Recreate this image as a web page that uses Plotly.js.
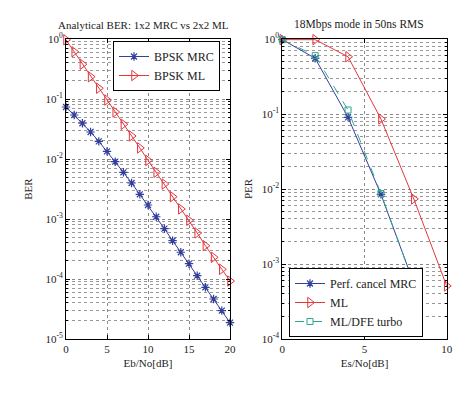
<!DOCTYPE html>
<html><head><meta charset="utf-8">
<script src="https://cdn.plot.ly/plotly-3.0.1.min.js"></script>
<style>html,body{margin:0;padding:0;background:#fff;}#chart{width:474px;height:397px;}</style>
</head><body><div id="chart"></div>
<script>
// Left panel: analytical BER
const ebno = [0,1,2,3,4,5,6,7,8,9,10,11,12,13,14,15,16,17,18,19,20];
const berMRC = [0.0736,0.0541,0.0394,0.0282,0.0197,0.0134,0.00902,0.0060,0.00398,0.00258,0.00171,0.00109,6.9e-4,4.35e-4,2.79e-4,1.80e-4,1.135e-4,7.27e-5,4.64e-5,2.97e-5,1.87e-5];
const berML = [0.97,0.614,0.379,0.235,0.151,0.0962,0.0607,0.0379,0.0242,0.0153,0.0095,0.0060,0.00383,0.00235,0.00147,9.5e-4,5.85e-4,3.59e-4,2.30e-4,1.45e-4,9.26e-5];
// Right panel: PER
const esno = [0,2,4,6,8,10];
const perMRC = [0.98,0.553,0.0903,0.0085,5.5e-4];
const perML = [0.98,0.98,0.58,0.0858,0.00736,5.1e-4];
const perTurbo = [0.98,0.60,0.113,0.0087,5.5e-4];
const leftXTicks = [0,5,10,15,20];
const rightXTicks = [0,5,10];
const leftYTickVals = [1,0.1,0.01,0.001,1e-4,1e-5];
const leftYTickText = ['10<sup>0</sup>','10<sup>-1</sup>','10<sup>-2</sup>','10<sup>-3</sup>','10<sup>-4</sup>','10<sup>-5</sup>'];
const rightYTickVals = [1,0.1,0.01,0.001,1e-4];
const rightYTickText = ['10<sup>0</sup>','10<sup>-1</sup>','10<sup>-2</sup>','10<sup>-3</sup>','10<sup>-4</sup>'];

const BLUE = '#333f9c', RED = '#e4373c', GREEN = '#2ea88c';
const FONT = 'Liberation Serif, Times New Roman, serif';

function minorVals(majors) {
  const out = [];
  majors.forEach(function (v) { for (let m = 2; m <= 9; m++) { if (v * m <= 1.0001) out.push(v * m); } });
  return out;
}

const traces = [
  {x: ebno, y: berMRC, name: 'BPSK MRC', mode: 'lines+markers', xaxis: 'x', yaxis: 'y', legend: 'legend', cliponaxis: false,
   line: {color: BLUE, width: 1}, marker: {symbol: 'asterisk-open', size: 7, color: BLUE, line: {color: BLUE, width: 1.2}}},
  {x: ebno, y: berML, name: 'BPSK ML', mode: 'lines+markers', xaxis: 'x', yaxis: 'y', legend: 'legend', cliponaxis: false,
   line: {color: RED, width: 1}, marker: {symbol: 'triangle-right-open', size: 9, color: RED, line: {color: RED, width: 1}}},
  {x: esno.slice(0, perMRC.length), y: perMRC, name: 'Perf. cancel MRC', mode: 'lines+markers', xaxis: 'x2', yaxis: 'y2', legend: 'legend2', cliponaxis: false,
   line: {color: BLUE, width: 1}, marker: {symbol: 'asterisk-open', size: 7, color: BLUE, line: {color: BLUE, width: 1.2}}},
  {x: esno, y: perML, name: 'ML', mode: 'lines+markers', xaxis: 'x2', yaxis: 'y2', legend: 'legend2', cliponaxis: false,
   line: {color: RED, width: 1}, marker: {symbol: 'triangle-right-open', size: 9, color: RED, line: {color: RED, width: 1}}},
  {x: esno.slice(0, perTurbo.length), y: perTurbo, name: 'ML/DFE turbo', mode: 'lines+markers', xaxis: 'x2', yaxis: 'y2', legend: 'legend2', cliponaxis: false,
   line: {color: GREEN, width: 1, dash: 'dash'}, marker: {symbol: 'square-open', size: 6, color: GREEN, line: {color: GREEN, width: 1}}}
];

function xax(domain, range, ticks, title, anchor) {
  return {domain: domain, range: range, tickmode: 'array', tickvals: ticks, ticktext: ticks.map(String), anchor: anchor,
    showline: true, mirror: 'ticks', linecolor: '#000', linewidth: 1, ticks: 'inside', ticklen: 4, tickcolor: '#000',
    showgrid: true, gridcolor: '#888', griddash: 'dot', gridwidth: 1, zeroline: false,
    tickfont: {family: FONT, size: 11, color: '#222'},
    title: {text: title, font: {family: FONT, size: 11, color: '#222'}, standoff: 5}};
}
function yax(domain, range, vals, text, title, anchor, standoff) {
  return {domain: domain, type: 'log', range: range, tickmode: 'array', tickvals: vals, ticktext: text, anchor: anchor,
    showline: true, mirror: 'ticks', linecolor: '#000', linewidth: 1, ticks: 'inside', ticklen: 4, tickcolor: '#000',
    showgrid: true, gridcolor: '#888', griddash: 'dot', gridwidth: 1, zeroline: false,
    minor: {tickmode: 'array', tickvals: minorVals(vals), showgrid: true, gridcolor: '#999', griddash: 'dot', gridwidth: 1,
            ticks: 'inside', ticklen: 2, tickcolor: '#000'},
    tickfont: {family: FONT, size: 11, color: '#222'},
    title: {text: title, font: {family: FONT, size: 11, color: '#222'}, standoff: standoff}};
}

const yDom = [1 - 339/397, 1 - 39/397];
const layout = {
  width: 474, height: 397,
  margin: {l: 0, r: 0, t: 0, b: 0},
  paper_bgcolor: '#fff', plot_bgcolor: '#fff',
  showlegend: true,
  xaxis: xax([66/474, 230/474], [0, 20], leftXTicks, 'Eb/No[dB]', 'y'),
  yaxis: yax(yDom, [-5, 0], leftYTickVals, leftYTickText, 'BER', 'x', 10),
  xaxis2: xax([282.3/474, 446.7/474], [0, 10], rightXTicks, 'Es/No[dB]', 'y2'),
  yaxis2: yax(yDom, [-4, 0], rightYTickVals, rightYTickText, 'PER', 'x2', 6),
  legend: {x: 113/474, y: 1 - 41/397, xanchor: 'left', yanchor: 'top', bgcolor: '#fff', bordercolor: '#000', borderwidth: 1,
    font: {family: FONT, size: 12, color: '#222'}, tracegroupgap: 0, itemwidth: 30},
  legend2: {x: 289/474, y: 1 - 268/397, xanchor: 'left', yanchor: 'top', bgcolor: '#fff', bordercolor: '#000', borderwidth: 1,
    font: {family: FONT, size: 12, color: '#222'}, tracegroupgap: 0, itemwidth: 30},
  annotations: [
    {text: 'Analytical BER: 1x2 MRC vs 2x2 ML', xref: 'paper', yref: 'paper', x: 143/474, y: 1 - 25/397, xanchor: 'center', yanchor: 'middle',
     showarrow: false, font: {family: FONT, size: 11, color: '#222'}},
    {text: '18Mbps mode in 50ns RMS', xref: 'paper', yref: 'paper', x: 358.5/474, y: 1 - 25/397, xanchor: 'center', yanchor: 'middle',
     showarrow: false, font: {family: FONT, size: 11.5, color: '#222'}}
  ]
};
Plotly.newPlot('chart', traces, layout, {displayModeBar: false, staticPlot: true});
</script>
</body></html>
